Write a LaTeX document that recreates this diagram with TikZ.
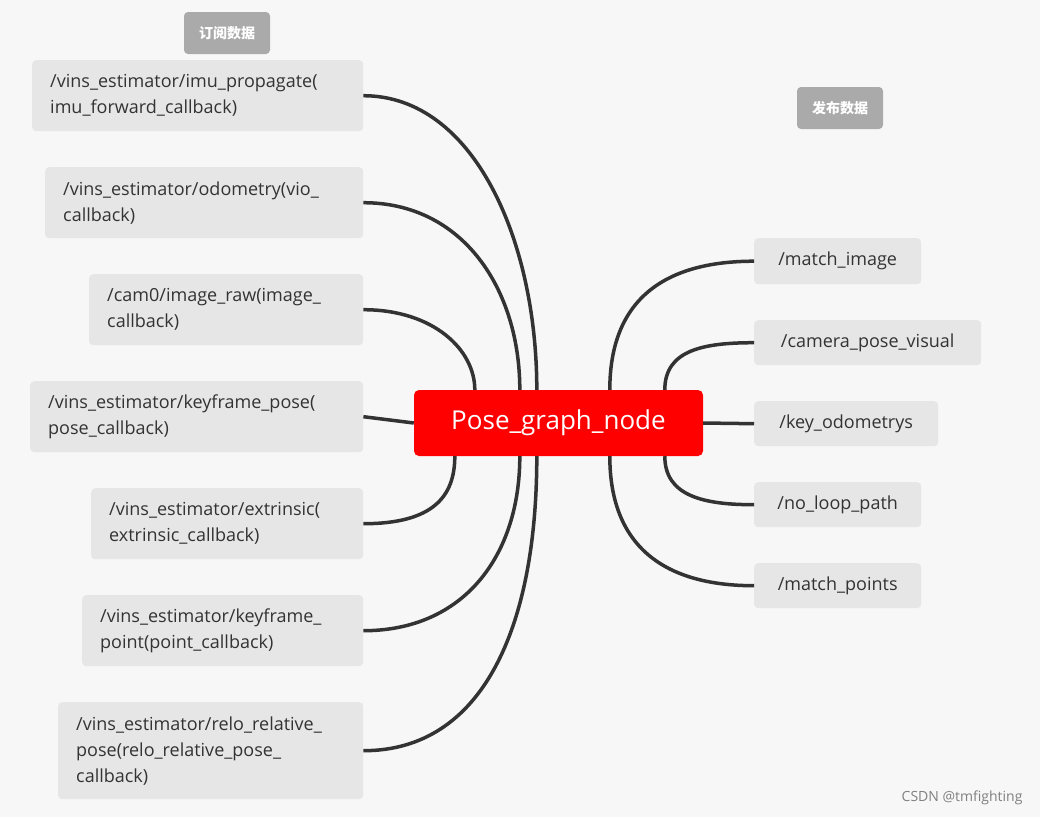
\documentclass[tikz,border=0pt]{standalone}
\usepackage{fontspec}
\setmainfont{Open Sans}
\newfontfamily\cjk{Noto Sans CJK SC}
\usetikzlibrary{calc}
\definecolor{bgc}{HTML}{F7F7F7}
\definecolor{boxc}{HTML}{E6E6E6}
\definecolor{txt}{HTML}{333333}
\definecolor{tagc}{HTML}{AAAAAA}
\tikzset{
 box/.style={fill=boxc,rounded corners=4pt,anchor=north west,align=left,inner xsep=18pt,inner ysep=0pt,text=txt,font=\fontsize{18}{26}\selectfont},
 tag/.style={fill=tagc,rounded corners=4pt,text=white,minimum width=86pt,minimum height=42pt,inner sep=0pt,font=\cjk\bfseries\fontsize{14}{16}\selectfont},
 link/.style={draw=txt,line width=3.5pt}
}
\begin{document}
\begin{tikzpicture}[x=1pt,y=-1pt]
\fill[bgc] (0,0) rectangle (1040,817);
\useasboundingbox (0,0) rectangle (1040,817);
\node[tag] (t1) at (227,33) {订阅数据};
\node[tag] (t2) at (840,108) {发布数据};
\node[box,minimum width=331pt,minimum height=71pt,text width=295pt] (l1) at (32,60) {/vins\_estimator/imu\_propagate(\\imu\_forward\_callback)};
\node[box,minimum width=318pt,minimum height=71pt,text width=282pt] (l2) at (45,167) {/vins\_estimator/odometry(vio\_\\callback)};
\node[box,minimum width=274pt,minimum height=71pt,text width=238pt] (l3) at (89,274) {/cam0/image\_raw(image\_\\callback)};
\node[box,minimum width=333pt,minimum height=71pt,text width=297pt] (l4) at (30,381) {/vins\_estimator/keyframe\_pose(\\pose\_callback)};
\node[box,minimum width=272pt,minimum height=71pt,text width=236pt] (l5) at (91,488) {/vins\_estimator/extrinsic(\\extrinsic\_callback)};
\node[box,minimum width=281pt,minimum height=71pt,text width=245pt] (l6) at (82,595) {/vins\_estimator/keyframe\_\\point(point\_callback)};
\node[box,minimum width=305pt,minimum height=97pt,text width=269pt] (l7) at (58,702) {/vins\_estimator/relo\_relative\_\\pose(relo\_relative\_pose\_\\callback)};
\node[fill=red,rounded corners=5pt,minimum width=289pt,minimum height=66pt,text=white,font=\fontsize{26}{30}\selectfont] (c) at (558.5,423) {Pose\_graph\_node};
\node[box,minimum width=167pt,minimum height=46pt] (r1) at (754,238) {/match\_image};
\node[box,minimum width=227pt,minimum height=45pt] (r2) at (754,320) {/camera\_pose\_visual};
\node[box,minimum width=184pt,minimum height=45pt] (r3) at (754,401) {/key\_odometrys};
\node[box,minimum width=167pt,minimum height=45pt] (r4) at (754,482) {/no\_loop\_path};
\node[box,minimum width=167pt,minimum height=45pt] (r5) at (754,563) {/match\_points};
\node[text=gray,font=\fontsize{14}{16}\selectfont,anchor=east] (w) at (1026,798) {CSDN @tmfighting};
% left links
\draw[link] (l1.east) .. controls +(110,0) and ($(c.north west)+(123,-150)$) .. ($(c.north west)+(123,0)$);
\draw[link] (l2.east) .. controls +(100,0) and ($(c.north west)+(106,-100)$) .. ($(c.north west)+(106,0)$);
\draw[link] (l3.east) .. controls +(70,0) and ($(c.north west)+(61,-40)$) .. ($(c.north west)+(61,0)$);
\draw[link] (l4.east) -- (c.west);
\draw[link] (l5.east) .. controls +(70,0) and ($(c.south west)+(41,40)$) .. ($(c.south west)+(41,0)$);
\draw[link] (l6.east) .. controls +(100,0) and ($(c.south west)+(106,100)$) .. ($(c.south west)+(106,0)$);
\draw[link] (l7.east) .. controls +(120,0) and ($(c.south west)+(123,170)$) .. ($(c.south west)+(123,0)$);
% right links
\draw[link] ($(c.north west)+(196,0)$) .. controls +(0,-90) and ($(r1.west)+(-90,0)$) .. (r1.west);
\draw[link] ($(c.north west)+(251,0)$) .. controls +(0,-40) and ($(r2.west)+(-50,0)$) .. (r2.west);
\draw[link] (c.east) -- (r3.west);
\draw[link] ($(c.south west)+(251,0)$) .. controls +(0,40) and ($(r4.west)+(-50,0)$) .. (r4.west);
\draw[link] ($(c.south west)+(196,0)$) .. controls +(0,90) and ($(r5.west)+(-90,0)$) .. (r5.west);
\end{tikzpicture}
\end{document}
